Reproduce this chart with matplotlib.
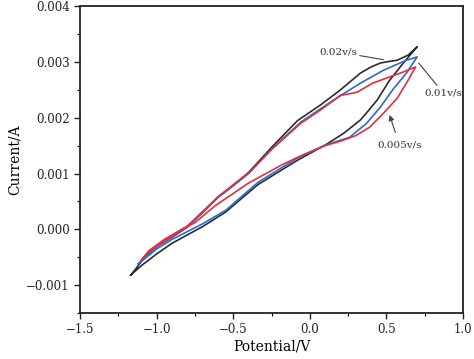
import matplotlib
matplotlib.use("Agg")
import matplotlib.pyplot as plt
import numpy as np
from matplotlib.ticker import MultipleLocator, FuncFormatter

# CV loops: upper branch (left -> right) then lower branch (right -> left)
v_02 = [-1.17, -1.14, -1.08, -1.0, -0.9, -0.8, -0.7, -0.6, -0.5, -0.4, -0.25, -0.08,
        0.07, 0.2, 0.33, 0.40, 0.46, 0.52, 0.57, 0.64, 0.70,
        0.61, 0.52, 0.44, 0.38, 0.33, 0.22, 0.10, -0.08, -0.34, -0.55, -0.7, -0.8, -0.9,
        -1.0, -1.1, -1.17]
i_02 = [-0.00082, -0.00072, -0.00050, -0.00030, -0.00014, 0.00004, 0.00031, 0.00058,
        0.00079, 0.00102, 0.00147, 0.00195, 0.00223, 0.00250, 0.00280, 0.00291, 0.00298,
        0.00301, 0.00303, 0.00312, 0.00327,
        0.00298, 0.00267, 0.00232, 0.00212, 0.00196, 0.00172, 0.00151, 0.00124, 0.00080,
        0.00031, 0.00005, -0.00010, -0.00025, -0.00044, -0.00065, -0.00082]

v_01 = [-1.12, -1.05, -1.0, -0.9, -0.8, -0.7, -0.6, -0.5, -0.4, -0.25, -0.06, 0.15,
        0.33, 0.48, 0.63, 0.70,
        0.63, 0.54, 0.46, 0.37, 0.26, 0.10, -0.08, -0.34, -0.55, -0.7, -0.8, -0.9,
        -1.0, -1.12]
i_01 = [-0.00062, -0.00042, -0.00031, -0.00014, 0.00004, 0.00030, 0.00057, 0.00078,
        0.00100, 0.00144, 0.00192, 0.00231, 0.00262, 0.00285, 0.00303, 0.00309,
        0.00280, 0.00250, 0.00219, 0.00190, 0.00165, 0.00151, 0.00128, 0.00084,
        0.00034, 0.00010, -0.00004, -0.00018, -0.00035, -0.00062]

v_005 = [-1.10, -1.05, -1.0, -0.9, -0.8, -0.7, -0.6, -0.5, -0.4, -0.25, -0.06, 0.07,
         0.2, 0.26, 0.31, 0.41, 0.52, 0.61, 0.69,
         0.63, 0.57, 0.48, 0.39, 0.3, 0.2, 0.1, -0.05, -0.18, -0.4, -0.62, -0.75,
         -0.85, -0.95, -1.05, -1.10]
i_005 = [-0.00055, -0.00040, -0.00030, -0.00013, 0.00006, 0.00032, 0.00058, 0.00080,
         0.00101, 0.00143, 0.00190, 0.00214, 0.00240, 0.00243, 0.00246, 0.00262,
         0.00273, 0.00282, 0.00291,
         0.00262, 0.00235, 0.00208, 0.00183, 0.00168, 0.00158, 0.00150, 0.00133,
         0.00116, 0.00083, 0.00042, 0.00012, -0.00002, -0.00018, -0.00038, -0.00055]

x_ticks = [-1.5, -1.0, -0.5, 0.0, 0.5, 1.0]
y_ticks = [-0.001, 0.0, 0.001, 0.002, 0.003, 0.004]

plt.rcParams["font.family"] = "DejaVu Serif"

fig = plt.figure(figsize=(4.74, 3.59), dpi=100)
ax = fig.add_axes([0.169, 0.128, 0.808, 0.855])

ax.plot(v_02, i_02, color="#2b2b2b", lw=1.2)
ax.plot(v_01, i_01, color="#2a6ad0", lw=1.2)
ax.plot(v_005, i_005, color="#e0303c", lw=1.2)

ax.set_xlim(-1.5, 1.0)
ax.set_ylim(-0.0015, 0.004)
ax.set_xticks(x_ticks)
ax.set_yticks(y_ticks)
ax.xaxis.set_minor_locator(MultipleLocator(0.25))
ax.yaxis.set_minor_locator(MultipleLocator(0.0005))
ax.xaxis.set_major_formatter(FuncFormatter(lambda v, p: f"{v:.1f}".replace("-", "\u2212")))
ax.yaxis.set_major_formatter(FuncFormatter(lambda v, p: f"{v:.3f}".replace("-", "\u2212")))
ax.tick_params(which="major", direction="out", length=4, width=1.0, labelsize=8.5, colors="#222222")
ax.tick_params(which="minor", direction="out", length=2.5, width=0.8)
for s in ax.spines.values():
    s.set_linewidth(1.3)
    s.set_color("#222222")

ax.set_xlabel("Potential/V", fontsize=10, labelpad=2)
ax.set_ylabel("Current/A", fontsize=10, labelpad=3)

# annotations
ax.annotate("0.02v/s", xy=(0.48, 0.00304), xytext=(0.06, 0.00318), fontsize=7.5,
            va="center", color="#333333",
            arrowprops=dict(arrowstyle="-", color="#444444", lw=0.8, shrinkA=0, shrinkB=0))
ax.annotate("0.01v/s", xy=(0.71, 0.00298), xytext=(0.745, 0.00245), fontsize=7.5,
            va="center", color="#333333",
            arrowprops=dict(arrowstyle="-", color="#444444", lw=0.8, shrinkA=0, shrinkB=0))
ax.annotate("0.005v/s", xy=(0.52, 0.00205), xytext=(0.44, 0.00151), fontsize=7.5,
            va="center", color="#333333",
            arrowprops=dict(arrowstyle="-|>", color="#444444", lw=0.8, shrinkA=4, shrinkB=0,
                            mutation_scale=8))

fig.savefig("out.png", dpi=100)
